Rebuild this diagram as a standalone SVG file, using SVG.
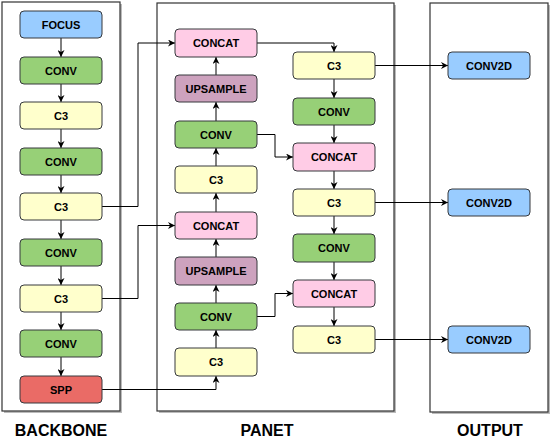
<svg xmlns="http://www.w3.org/2000/svg" width="550" height="438" viewBox="0 0 550 438">
<style>
.cont{fill:#fff;stroke:#333;stroke-width:1.2}
.sh{fill:#bbb}
.n{stroke:#36393d;stroke-width:1}
.t{font-family:"Liberation Sans",Arial,sans-serif;font-weight:bold;font-size:11px;fill:#000;text-anchor:middle;dominant-baseline:central}
.lbl{font-family:"Liberation Sans",Arial,sans-serif;font-weight:bold;font-size:16px;fill:#000;text-anchor:middle}
.blue{fill:#99CCFF}.green{fill:#97D077}.yellow{fill:#FFFFCC}.pink{fill:#FFCCE6}.purple{fill:#CDA2BE}.red{fill:#EA6B66}
.c{fill:none;stroke:#000;stroke-width:1;marker-end:url(#ah)}
</style>
<defs>
<marker id="ah" viewBox="0 0 10 10" refX="10" refY="5" markerWidth="7" markerHeight="7" markerUnits="userSpaceOnUse" orient="auto">
<path d="M0,0 L10,5 L0,10 L3,5 Z" fill="#000"/>
</marker>
</defs>
<rect width="550" height="438" fill="#fff"/>
<g id="containers">
<rect class="sh" x="4" y="4" width="118" height="409"/>
<rect class="cont" x="2" y="2" width="118" height="409"/>
<rect class="sh" x="159" y="5" width="237" height="408"/>
<rect class="cont" x="157" y="3" width="237" height="408"/>
<rect class="sh" x="432" y="5" width="118" height="409"/>
<rect class="cont" x="430" y="3" width="118" height="409"/>
<text class="lbl" x="61" y="436">BACKBONE</text>
<text class="lbl" x="267" y="436">PANET</text>
<text class="lbl" x="490" y="436">OUTPUT</text>
</g>
<g id="connectors">
<path class="c" d="M61,38 V57"/>
<path class="c" d="M61,84 V102"/>
<path class="c" d="M61,129 V148"/>
<path class="c" d="M61,175 V193"/>
<path class="c" d="M61,220 V239"/>
<path class="c" d="M61,266 V285"/>
<path class="c" d="M61,312 V330"/>
<path class="c" d="M61,357 V376"/>
<path class="c" d="M102,206.5 H138 V43 H175"/>
<path class="c" d="M102,298.5 H138 V225.5 H175"/>
<path class="c" d="M102,389.5 H216 V376"/>
<path class="c" d="M216,348 V330"/>
<path class="c" d="M216,303 V285"/>
<path class="c" d="M216,257 V239"/>
<path class="c" d="M216,212 V193"/>
<path class="c" d="M216,166 V148"/>
<path class="c" d="M216,121 V102"/>
<path class="c" d="M216,75 V57"/>
<path class="c" d="M257,43 H334 V52"/>
<path class="c" d="M257,134.5 H275 V157 H293"/>
<path class="c" d="M257,316.5 H275 V293.5 H293"/>
<path class="c" d="M334,79 V98"/>
<path class="c" d="M334,125 V143"/>
<path class="c" d="M334,171 V189"/>
<path class="c" d="M334,216 V234"/>
<path class="c" d="M334,262 V280"/>
<path class="c" d="M334,307 V326"/>
<path class="c" d="M375,65.5 H448"/>
<path class="c" d="M375,202.5 H448"/>
<path class="c" d="M375,339.5 H448"/>
</g>
<g id="focus"><rect class="n blue" x="20" y="11" width="82" height="27" rx="4"/><text class="t" x="61" y="24.5">FOCUS</text></g>
<g id="bb_conv1"><rect class="n green" x="20" y="57" width="82" height="27" rx="4"/><text class="t" x="61" y="70.5">CONV</text></g>
<g id="bb_c3_1"><rect class="n yellow" x="20" y="102" width="82" height="27" rx="4"/><text class="t" x="61" y="115.5">C3</text></g>
<g id="bb_conv2"><rect class="n green" x="20" y="148" width="82" height="27" rx="4"/><text class="t" x="61" y="161.5">CONV</text></g>
<g id="bb_c3_2"><rect class="n yellow" x="20" y="193" width="82" height="27" rx="4"/><text class="t" x="61" y="206.5">C3</text></g>
<g id="bb_conv3"><rect class="n green" x="20" y="239" width="82" height="27" rx="4"/><text class="t" x="61" y="252.5">CONV</text></g>
<g id="bb_c3_3"><rect class="n yellow" x="20" y="285" width="82" height="27" rx="4"/><text class="t" x="61" y="298.5">C3</text></g>
<g id="bb_conv4"><rect class="n green" x="20" y="330" width="82" height="27" rx="4"/><text class="t" x="61" y="343.5">CONV</text></g>
<g id="spp"><rect class="n red" x="20" y="376" width="82" height="27" rx="4"/><text class="t" x="61" y="389.5">SPP</text></g>
<g id="pl_concat1"><rect class="n pink" x="175" y="29" width="82" height="28" rx="4"/><text class="t" x="216" y="43">CONCAT</text></g>
<g id="pl_up1"><rect class="n purple" x="175" y="75" width="82" height="27" rx="4"/><text class="t" x="216" y="88.5">UPSAMPLE</text></g>
<g id="pl_conv1"><rect class="n green" x="175" y="121" width="82" height="27" rx="4"/><text class="t" x="216" y="134.5">CONV</text></g>
<g id="pl_c3_1"><rect class="n yellow" x="175" y="166" width="82" height="27" rx="4"/><text class="t" x="216" y="179.5">C3</text></g>
<g id="pl_concat2"><rect class="n pink" x="175" y="212" width="82" height="27" rx="4"/><text class="t" x="216" y="225.5">CONCAT</text></g>
<g id="pl_up2"><rect class="n purple" x="175" y="257" width="82" height="28" rx="4"/><text class="t" x="216" y="271">UPSAMPLE</text></g>
<g id="pl_conv2"><rect class="n green" x="175" y="303" width="82" height="27" rx="4"/><text class="t" x="216" y="316.5">CONV</text></g>
<g id="pl_c3_2"><rect class="n yellow" x="175" y="348" width="82" height="28" rx="4"/><text class="t" x="216" y="362">C3</text></g>
<g id="pr_c3_1"><rect class="n yellow" x="293" y="52" width="82" height="27" rx="4"/><text class="t" x="334" y="65.5">C3</text></g>
<g id="pr_conv1"><rect class="n green" x="293" y="98" width="82" height="27" rx="4"/><text class="t" x="334" y="111.5">CONV</text></g>
<g id="pr_concat1"><rect class="n pink" x="293" y="143" width="82" height="28" rx="4"/><text class="t" x="334" y="157">CONCAT</text></g>
<g id="pr_c3_2"><rect class="n yellow" x="293" y="189" width="82" height="27" rx="4"/><text class="t" x="334" y="202.5">C3</text></g>
<g id="pr_conv2"><rect class="n green" x="293" y="234" width="82" height="28" rx="4"/><text class="t" x="334" y="248">CONV</text></g>
<g id="pr_concat2"><rect class="n pink" x="293" y="280" width="82" height="27" rx="4"/><text class="t" x="334" y="293.5">CONCAT</text></g>
<g id="pr_c3_3"><rect class="n yellow" x="293" y="326" width="82" height="27" rx="4"/><text class="t" x="334" y="339.5">C3</text></g>
<g id="out1"><rect class="n blue" x="448" y="52" width="82" height="27" rx="4"/><text class="t" x="489" y="65.5">CONV2D</text></g>
<g id="out2"><rect class="n blue" x="448" y="189" width="82" height="27" rx="4"/><text class="t" x="489" y="202.5">CONV2D</text></g>
<g id="out3"><rect class="n blue" x="448" y="326" width="82" height="27" rx="4"/><text class="t" x="489" y="339.5">CONV2D</text></g>
</svg>
